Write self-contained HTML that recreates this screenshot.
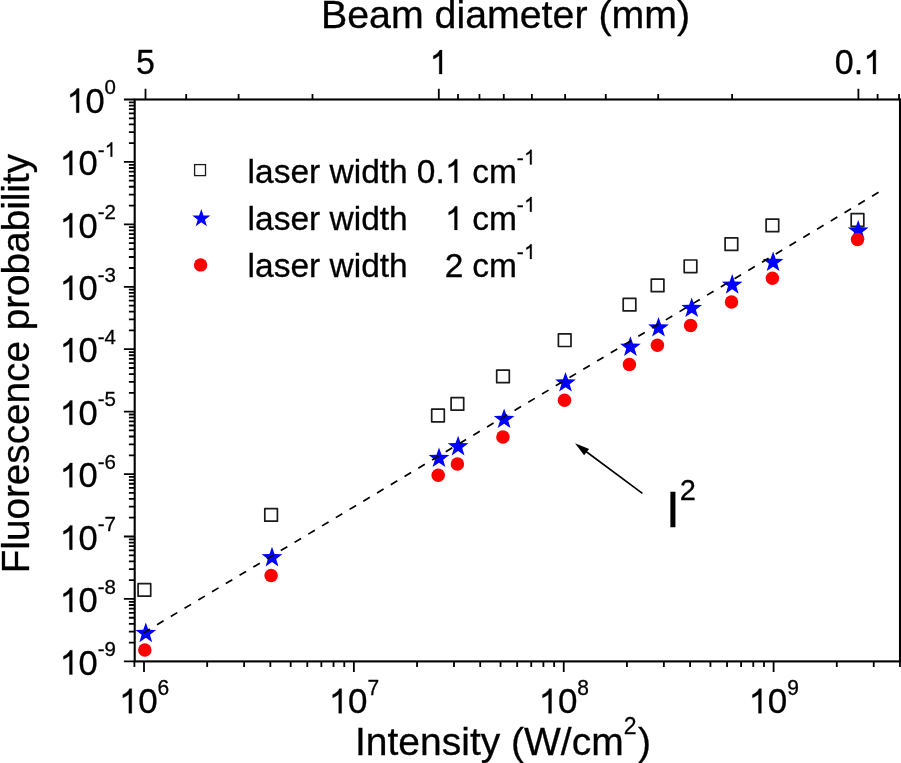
<!DOCTYPE html>
<html><head><meta charset="utf-8"><style>svg{will-change:transform}html,body{margin:0;padding:0;background:#fff;width:901px;height:763px;overflow:hidden}</style></head>
<body><svg width="901" height="763" viewBox="0 0 901 763" style="position:absolute;left:0;top:0"><rect width="901" height="763" fill="#fff"/><path d="M123.90 99.50H134.70M128.90 143.14H134.70M128.90 132.14H134.70M128.90 124.34H134.70M128.90 118.29H134.70M128.90 113.35H134.70M128.90 109.17H134.70M128.90 105.55H134.70M128.90 102.36H134.70M123.90 161.93H134.70M128.90 205.57H134.70M128.90 194.57H134.70M128.90 186.77H134.70M128.90 180.72H134.70M128.90 175.78H134.70M128.90 171.60H134.70M128.90 167.98H134.70M128.90 164.79H134.70M123.90 224.36H134.70M128.90 268.00H134.70M128.90 257.00H134.70M128.90 249.20H134.70M128.90 243.15H134.70M128.90 238.21H134.70M128.90 234.03H134.70M128.90 230.41H134.70M128.90 227.22H134.70M123.90 286.79H134.70M128.90 330.43H134.70M128.90 319.43H134.70M128.90 311.63H134.70M128.90 305.58H134.70M128.90 300.64H134.70M128.90 296.46H134.70M128.90 292.84H134.70M128.90 289.65H134.70M123.90 349.22H134.70M128.90 392.86H134.70M128.90 381.86H134.70M128.90 374.06H134.70M128.90 368.01H134.70M128.90 363.07H134.70M128.90 358.89H134.70M128.90 355.27H134.70M128.90 352.08H134.70M123.90 411.65H134.70M128.90 455.29H134.70M128.90 444.29H134.70M128.90 436.49H134.70M128.90 430.44H134.70M128.90 425.50H134.70M128.90 421.32H134.70M128.90 417.70H134.70M128.90 414.51H134.70M123.90 474.08H134.70M128.90 517.72H134.70M128.90 506.72H134.70M128.90 498.92H134.70M128.90 492.87H134.70M128.90 487.93H134.70M128.90 483.75H134.70M128.90 480.13H134.70M128.90 476.94H134.70M123.90 536.51H134.70M128.90 580.15H134.70M128.90 569.15H134.70M128.90 561.35H134.70M128.90 555.30H134.70M128.90 550.36H134.70M128.90 546.18H134.70M128.90 542.56H134.70M128.90 539.37H134.70M123.90 598.94H134.70M128.90 642.58H134.70M128.90 631.58H134.70M128.90 623.78H134.70M128.90 617.73H134.70M128.90 612.79H134.70M128.90 608.61H134.70M128.90 604.99H134.70M128.90 601.80H134.70M123.90 661.37H134.70M134.40 661.40V666.90M144.00 661.40V672.10M207.18 661.40V666.90M244.13 661.40V666.90M270.35 661.40V666.90M290.69 661.40V666.90M307.31 661.40V666.90M321.36 661.40V666.90M333.53 661.40V666.90M344.27 661.40V666.90M353.87 661.40V672.10M417.05 661.40V666.90M454.00 661.40V666.90M480.22 661.40V666.90M500.56 661.40V666.90M517.18 661.40V666.90M531.23 661.40V666.90M543.40 661.40V666.90M554.14 661.40V666.90M563.74 661.40V672.10M626.92 661.40V666.90M663.87 661.40V666.90M690.09 661.40V666.90M710.43 661.40V666.90M727.05 661.40V666.90M741.10 661.40V666.90M753.27 661.40V666.90M764.01 661.40V666.90M773.61 661.40V672.10M836.79 661.40V666.90M873.74 661.40V666.90M899.96 661.40V666.90M145.51 99.50V88.70M186.18 99.50V94.00M238.60 99.50V94.00M312.49 99.50V94.00M438.80 99.50V88.70M458.00 99.50V94.00M479.46 99.50V94.00M503.80 99.50V94.00M531.89 99.50V94.00M565.11 99.50V94.00M605.78 99.50V94.00M658.20 99.50V94.00M732.09 99.50V94.00M858.40 99.50V88.70M877.60 99.50V94.00M899.06 99.50V94.00" stroke="#000" stroke-width="1.8" fill="none"/><rect x="134.70" y="99.50" width="765.30" height="561.90" fill="none" stroke="#000" stroke-width="2.1"/><g font-family='"Liberation Sans", sans-serif' fill="#000" stroke="#000" stroke-width="0.3"><g transform="translate(321.00,28.00)"><text id="t1" x="0" y="0" font-size="39.3" text-anchor="start">Beam diameter (mm)</text></g><g transform="translate(145.51,74.00) scale(1,1.015)"><text id="t2" x="0" y="0" font-size="34" text-anchor="middle">5</text></g><g transform="translate(438.80,74.00) scale(1,1.015)"><text id="t3" x="0" y="0" font-size="34" text-anchor="middle"><tspan class="one" fill="transparent" stroke="none">1</tspan></text><path d="M3.24 0.00L0.42 0.00L0.42 -18.32Q-0.66 -17.34 -2.40 -16.36Q-4.15 -15.37 -5.48 -14.88L-5.48 -17.86Q-2.99 -19.01 -1.33 -20.48Q0.33 -21.95 1.00 -23.55L3.24 -23.55Z"/></g><g transform="translate(858.40,74.00) scale(1,1.015)"><text id="t4" x="0" y="0" font-size="34" text-anchor="middle">0.<tspan class="one" fill="transparent" stroke="none">1</tspan></text><path d="M17.42 0.00L14.60 0.00L14.60 -18.32Q13.52 -17.34 11.78 -16.36Q10.03 -15.37 8.71 -14.88L8.71 -17.86Q11.20 -19.01 12.86 -20.48Q14.52 -21.95 15.18 -23.55L17.42 -23.55Z"/></g><text transform="translate(28.6,573.3) rotate(-90)" font-size="38.7">Fluorescence probability</text><text x="355" y="755" font-size="39">Intensity (W/cm<tspan font-size="23" dy="-21.3">2</tspan><tspan dy="21.3" dx="1.5">)</tspan></text><g transform="translate(144.00,713.30) scale(1,1.015)"><text id="t5" x="0" y="0" font-size="35" text-anchor="middle"><tspan class="one" fill="transparent" stroke="none">1</tspan>0<tspan font-size="21" dy="-18.128">6</tspan></text><path d="M-12.23 0.00L-15.13 0.00L-15.13 -18.86Q-16.24 -17.85 -18.04 -16.84Q-19.83 -15.83 -21.20 -15.32L-21.20 -18.39Q-18.64 -19.56 -16.93 -21.08Q-15.22 -22.60 -14.54 -24.25L-12.23 -24.25Z"/></g><g transform="translate(353.87,713.30) scale(1,1.015)"><text id="t6" x="0" y="0" font-size="35" text-anchor="middle"><tspan class="one" fill="transparent" stroke="none">1</tspan>0<tspan font-size="21" dy="-18.128">7</tspan></text><path d="M-12.23 0.00L-15.13 0.00L-15.13 -18.86Q-16.24 -17.85 -18.04 -16.84Q-19.83 -15.83 -21.20 -15.32L-21.20 -18.39Q-18.64 -19.56 -16.93 -21.08Q-15.22 -22.60 -14.54 -24.25L-12.23 -24.25Z"/></g><g transform="translate(563.74,713.30) scale(1,1.015)"><text id="t7" x="0" y="0" font-size="35" text-anchor="middle"><tspan class="one" fill="transparent" stroke="none">1</tspan>0<tspan font-size="21" dy="-18.128">8</tspan></text><path d="M-12.23 0.00L-15.13 0.00L-15.13 -18.86Q-16.24 -17.85 -18.04 -16.84Q-19.83 -15.83 -21.20 -15.32L-21.20 -18.39Q-18.64 -19.56 -16.93 -21.08Q-15.22 -22.60 -14.54 -24.25L-12.23 -24.25Z"/></g><g transform="translate(773.61,713.30) scale(1,1.015)"><text id="t8" x="0" y="0" font-size="35" text-anchor="middle"><tspan class="one" fill="transparent" stroke="none">1</tspan>0<tspan font-size="21" dy="-18.128">9</tspan></text><path d="M-12.23 0.00L-15.13 0.00L-15.13 -18.86Q-16.24 -17.85 -18.04 -16.84Q-19.83 -15.83 -21.20 -15.32L-21.20 -18.39Q-18.64 -19.56 -16.93 -21.08Q-15.22 -22.60 -14.54 -24.25L-12.23 -24.25Z"/></g><g transform="translate(116.00,112.65) scale(1,1.015)"><text id="t9" x="0" y="0" font-size="34.5" text-anchor="end"><tspan class="one" fill="transparent" stroke="none">1</tspan>0<tspan font-size="20.5" dy="-18.128">0</tspan></text><path d="M-36.88 0.00L-39.74 0.00L-39.74 -18.59Q-40.84 -17.59 -42.61 -16.60Q-44.38 -15.60 -45.72 -15.10L-45.72 -18.12Q-43.20 -19.29 -41.51 -20.78Q-39.83 -22.27 -39.15 -23.90L-36.88 -23.90Z"/></g><g transform="translate(116.00,175.08) scale(1,1.015)"><text id="t10" x="0" y="0" font-size="34.5" text-anchor="end"><tspan class="one" fill="transparent" stroke="none">1</tspan>0<tspan font-size="20.5" dy="-18.128">-<tspan class="one" fill="transparent" stroke="none">1</tspan></tspan></text><path d="M-43.70 0.00L-46.57 0.00L-46.57 -18.59Q-47.66 -17.59 -49.43 -16.60Q-51.20 -15.60 -52.55 -15.10L-52.55 -18.12Q-50.02 -19.29 -48.34 -20.78Q-46.65 -22.27 -45.98 -23.90L-43.70 -23.90ZM-3.74 -18.13L-5.44 -18.13L-5.44 -29.17Q-6.09 -28.58 -7.14 -27.99Q-8.20 -27.40 -9.00 -27.10L-9.00 -28.90Q-7.49 -29.59 -6.49 -30.48Q-5.49 -31.36 -5.09 -32.33L-3.74 -32.33Z"/></g><g transform="translate(116.00,237.51) scale(1,1.015)"><text id="t11" x="0" y="0" font-size="34.5" text-anchor="end"><tspan class="one" fill="transparent" stroke="none">1</tspan>0<tspan font-size="20.5" dy="-18.128">-2</tspan></text><path d="M-43.70 0.00L-46.57 0.00L-46.57 -18.59Q-47.66 -17.59 -49.43 -16.60Q-51.20 -15.60 -52.55 -15.10L-52.55 -18.12Q-50.02 -19.29 -48.34 -20.78Q-46.65 -22.27 -45.98 -23.90L-43.70 -23.90Z"/></g><g transform="translate(116.00,299.94) scale(1,1.015)"><text id="t12" x="0" y="0" font-size="34.5" text-anchor="end"><tspan class="one" fill="transparent" stroke="none">1</tspan>0<tspan font-size="20.5" dy="-18.128">-3</tspan></text><path d="M-43.70 0.00L-46.57 0.00L-46.57 -18.59Q-47.66 -17.59 -49.43 -16.60Q-51.20 -15.60 -52.55 -15.10L-52.55 -18.12Q-50.02 -19.29 -48.34 -20.78Q-46.65 -22.27 -45.98 -23.90L-43.70 -23.90Z"/></g><g transform="translate(116.00,362.37) scale(1,1.015)"><text id="t13" x="0" y="0" font-size="34.5" text-anchor="end"><tspan class="one" fill="transparent" stroke="none">1</tspan>0<tspan font-size="20.5" dy="-18.128">-4</tspan></text><path d="M-43.70 0.00L-46.57 0.00L-46.57 -18.59Q-47.66 -17.59 -49.43 -16.60Q-51.20 -15.60 -52.55 -15.10L-52.55 -18.12Q-50.02 -19.29 -48.34 -20.78Q-46.65 -22.27 -45.98 -23.90L-43.70 -23.90Z"/></g><g transform="translate(116.00,424.80) scale(1,1.015)"><text id="t14" x="0" y="0" font-size="34.5" text-anchor="end"><tspan class="one" fill="transparent" stroke="none">1</tspan>0<tspan font-size="20.5" dy="-18.128">-5</tspan></text><path d="M-43.70 0.00L-46.57 0.00L-46.57 -18.59Q-47.66 -17.59 -49.43 -16.60Q-51.20 -15.60 -52.55 -15.10L-52.55 -18.12Q-50.02 -19.29 -48.34 -20.78Q-46.65 -22.27 -45.98 -23.90L-43.70 -23.90Z"/></g><g transform="translate(116.00,487.23) scale(1,1.015)"><text id="t15" x="0" y="0" font-size="34.5" text-anchor="end"><tspan class="one" fill="transparent" stroke="none">1</tspan>0<tspan font-size="20.5" dy="-18.128">-6</tspan></text><path d="M-43.70 0.00L-46.57 0.00L-46.57 -18.59Q-47.66 -17.59 -49.43 -16.60Q-51.20 -15.60 -52.55 -15.10L-52.55 -18.12Q-50.02 -19.29 -48.34 -20.78Q-46.65 -22.27 -45.98 -23.90L-43.70 -23.90Z"/></g><g transform="translate(116.00,549.66) scale(1,1.015)"><text id="t16" x="0" y="0" font-size="34.5" text-anchor="end"><tspan class="one" fill="transparent" stroke="none">1</tspan>0<tspan font-size="20.5" dy="-18.128">-7</tspan></text><path d="M-43.70 0.00L-46.57 0.00L-46.57 -18.59Q-47.66 -17.59 -49.43 -16.60Q-51.20 -15.60 -52.55 -15.10L-52.55 -18.12Q-50.02 -19.29 -48.34 -20.78Q-46.65 -22.27 -45.98 -23.90L-43.70 -23.90Z"/></g><g transform="translate(116.00,612.09) scale(1,1.015)"><text id="t17" x="0" y="0" font-size="34.5" text-anchor="end"><tspan class="one" fill="transparent" stroke="none">1</tspan>0<tspan font-size="20.5" dy="-18.128">-8</tspan></text><path d="M-43.70 0.00L-46.57 0.00L-46.57 -18.59Q-47.66 -17.59 -49.43 -16.60Q-51.20 -15.60 -52.55 -15.10L-52.55 -18.12Q-50.02 -19.29 -48.34 -20.78Q-46.65 -22.27 -45.98 -23.90L-43.70 -23.90Z"/></g><g transform="translate(116.00,674.52) scale(1,1.015)"><text id="t18" x="0" y="0" font-size="34.5" text-anchor="end"><tspan class="one" fill="transparent" stroke="none">1</tspan>0<tspan font-size="20.5" dy="-18.128">-9</tspan></text><path d="M-43.70 0.00L-46.57 0.00L-46.57 -18.59Q-47.66 -17.59 -49.43 -16.60Q-51.20 -15.60 -52.55 -15.10L-52.55 -18.12Q-50.02 -19.29 -48.34 -20.78Q-46.65 -22.27 -45.98 -23.90L-43.70 -23.90Z"/></g><g transform="translate(247.60,182.70)"><text id="t19" x="0" y="0" font-size="33.5" text-anchor="start">laser width</text></g><g transform="translate(463.40,182.70) scale(1,1.015)"><text id="t20" x="0" y="0" font-size="33.5" text-anchor="end">0.<tspan class="one" fill="transparent" stroke="none">1</tspan></text><path d="M-6.13 0.00L-8.91 0.00L-8.91 -18.05Q-9.97 -17.08 -11.69 -16.12Q-13.41 -15.15 -14.72 -14.67L-14.72 -17.60Q-12.26 -18.73 -10.63 -20.18Q-8.99 -21.63 -8.34 -23.21L-6.13 -23.21Z"/></g><g transform="translate(472.20,182.70)"><text id="t21" x="0" y="0" font-size="33.5" text-anchor="start">cm<tspan font-size="21" dy="-18.200">-<tspan class="one" fill="transparent" stroke="none">1</tspan></tspan></text><path d="M59.50 -18.20L57.76 -18.20L57.76 -29.68Q57.09 -29.07 56.01 -28.45Q54.94 -27.84 54.12 -27.53L54.12 -29.40Q55.66 -30.12 56.68 -31.04Q57.71 -31.96 58.12 -32.97L59.50 -32.97Z"/></g><g transform="translate(247.60,229.90)"><text id="t22" x="0" y="0" font-size="33.5" text-anchor="start">laser width</text></g><g transform="translate(463.40,229.90) scale(1,1.015)"><text id="t23" x="0" y="0" font-size="33.5" text-anchor="end"><tspan class="one" fill="transparent" stroke="none">1</tspan></text><path d="M-6.13 0.00L-8.91 0.00L-8.91 -18.05Q-9.97 -17.08 -11.69 -16.12Q-13.41 -15.15 -14.72 -14.67L-14.72 -17.60Q-12.26 -18.73 -10.63 -20.18Q-8.99 -21.63 -8.34 -23.21L-6.13 -23.21Z"/></g><g transform="translate(472.20,229.90)"><text id="t24" x="0" y="0" font-size="33.5" text-anchor="start">cm<tspan font-size="21" dy="-18.200">-<tspan class="one" fill="transparent" stroke="none">1</tspan></tspan></text><path d="M59.50 -18.20L57.76 -18.20L57.76 -29.68Q57.09 -29.07 56.01 -28.45Q54.94 -27.84 54.12 -27.53L54.12 -29.40Q55.66 -30.12 56.68 -31.04Q57.71 -31.96 58.12 -32.97L59.50 -32.97Z"/></g><g transform="translate(247.60,277.10)"><text id="t25" x="0" y="0" font-size="33.5" text-anchor="start">laser width</text></g><g transform="translate(463.40,277.10) scale(1,1.015)"><text id="t26" x="0" y="0" font-size="33.5" text-anchor="end">2</text></g><g transform="translate(472.20,277.10)"><text id="t27" x="0" y="0" font-size="33.5" text-anchor="start">cm<tspan font-size="21" dy="-18.200">-<tspan class="one" fill="transparent" stroke="none">1</tspan></tspan></text><path d="M59.50 -18.20L57.76 -18.20L57.76 -29.68Q57.09 -29.07 56.01 -28.45Q54.94 -27.84 54.12 -27.53L54.12 -29.40Q55.66 -30.12 56.68 -31.04Q57.71 -31.96 58.12 -32.97L59.50 -32.97Z"/></g><g transform="translate(666.00,526.60)"><text id="t28" x="0" y="0" font-size="49.5" text-anchor="start">I<tspan font-size="29" dy="-26.700">2</tspan></text></g></g><g fill="none" stroke="#1a1a1a" stroke-width="1.7" stroke-linejoin="round"><rect x="138.10" y="583.60" width="12.6" height="12.6"/><rect x="264.80" y="508.60" width="12.6" height="12.6"/><rect x="431.70" y="409.20" width="12.6" height="12.6"/><rect x="451.10" y="397.60" width="12.6" height="12.6"/><rect x="496.70" y="370.10" width="12.6" height="12.6"/><rect x="558.40" y="333.90" width="12.6" height="12.6"/><rect x="623.20" y="298.30" width="12.6" height="12.6"/><rect x="651.30" y="279.10" width="12.6" height="12.6"/><rect x="684.20" y="260.00" width="12.6" height="12.6"/><rect x="725.10" y="237.80" width="12.6" height="12.6"/><rect x="766.10" y="219.10" width="12.6" height="12.6"/><rect x="851.20" y="213.70" width="12.6" height="12.6"/></g><g fill="#0000ff"><polygon points="145.80,622.50 148.36,629.87 156.17,630.03 149.95,634.75 152.21,642.22 145.80,637.76 139.39,642.22 141.65,634.75 135.43,630.03 143.24,629.87"/><polygon points="272.00,546.70 274.56,554.07 282.37,554.23 276.15,558.95 278.41,566.42 272.00,561.96 265.59,566.42 267.85,558.95 261.63,554.23 269.44,554.07"/><polygon points="439.00,447.40 441.56,454.77 449.37,454.93 443.15,459.65 445.41,467.12 439.00,462.66 432.59,467.12 434.85,459.65 428.63,454.93 436.44,454.77"/><polygon points="458.10,435.70 460.66,443.07 468.47,443.23 462.25,447.95 464.51,455.42 458.10,450.96 451.69,455.42 453.95,447.95 447.73,443.23 455.54,443.07"/><polygon points="504.10,408.40 506.66,415.77 514.47,415.93 508.25,420.65 510.51,428.12 504.10,423.66 497.69,428.12 499.95,420.65 493.73,415.93 501.54,415.77"/><polygon points="565.50,371.90 568.06,379.27 575.87,379.43 569.65,384.15 571.91,391.62 565.50,387.16 559.09,391.62 561.35,384.15 555.13,379.43 562.94,379.27"/><polygon points="630.40,336.20 632.96,343.57 640.77,343.73 634.55,348.45 636.81,355.92 630.40,351.46 623.99,355.92 626.25,348.45 620.03,343.73 627.84,343.57"/><polygon points="658.50,316.90 661.06,324.27 668.87,324.43 662.65,329.15 664.91,336.62 658.50,332.16 652.09,336.62 654.35,329.15 648.13,324.43 655.94,324.27"/><polygon points="691.70,297.40 694.26,304.77 702.07,304.93 695.85,309.65 698.11,317.12 691.70,312.66 685.29,317.12 687.55,309.65 681.33,304.93 689.14,304.77"/><polygon points="732.20,274.10 734.76,281.47 742.57,281.63 736.35,286.35 738.61,293.82 732.20,289.36 725.79,293.82 728.05,286.35 721.83,281.63 729.64,281.47"/><polygon points="773.10,251.40 775.66,258.77 783.47,258.93 777.25,263.65 779.51,271.12 773.10,266.66 766.69,271.12 768.95,263.65 762.73,258.93 770.54,258.77"/><polygon points="858.20,219.90 860.76,227.27 868.57,227.43 862.35,232.15 864.61,239.62 858.20,235.16 851.79,239.62 854.05,232.15 847.83,227.43 855.64,227.27"/></g><path d="M143.3 633L879.3 191.9" stroke="#000" stroke-width="1.7" stroke-dasharray="7.6 8.43" fill="none"/><g fill="#ff0000"><circle cx="144.8" cy="650" r="6.75"/><circle cx="271.1" cy="575.4" r="6.75"/><circle cx="438.2" cy="475.2" r="6.75"/><circle cx="457.4" cy="464" r="6.75"/><circle cx="502.9" cy="437" r="6.75"/><circle cx="564.5" cy="400.3" r="6.75"/><circle cx="629.4" cy="364.4" r="6.75"/><circle cx="657.4" cy="345.3" r="6.75"/><circle cx="690.6" cy="325.6" r="6.75"/><circle cx="731.5" cy="302" r="6.75"/><circle cx="772.4" cy="278.2" r="6.75"/><circle cx="857.5" cy="239.6" r="6.75"/></g><rect x="194.6" y="164.6" width="10.9" height="11.0" fill="none" stroke="#1a1a1a" stroke-width="1.3"/><g fill="#0000ff"><polygon points="201.30,209.00 203.53,215.43 210.34,215.56 204.91,219.67 206.88,226.19 201.30,222.30 195.72,226.19 197.69,219.67 192.26,215.56 199.07,215.43"/></g><circle cx="200.6" cy="264.9" r="6.7" fill="#ff0000"/><path d="M642.4 493.3L582 448.5" stroke="#000" stroke-width="1.6" fill="none"/><path d="M575 443.3L589.1 449.1L584.1 455.3Z" fill="#000"/></svg></body></html>
